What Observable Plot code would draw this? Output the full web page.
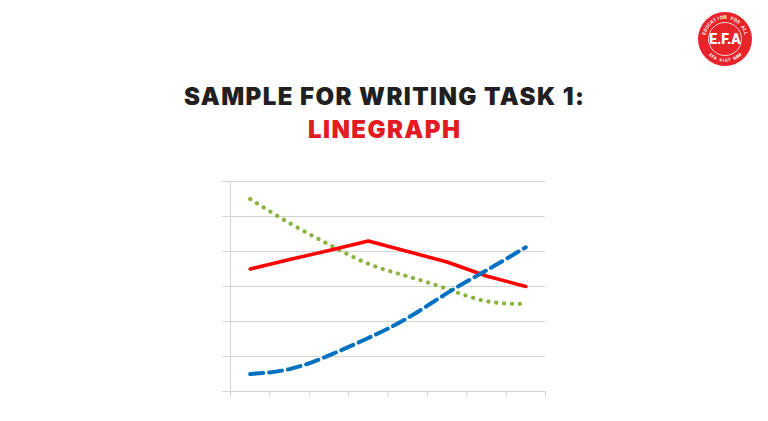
<!DOCTYPE html>
<html><head><meta charset="utf-8">
<script src="https://cdn.jsdelivr.net/npm/d3@7"></script>
<script src="https://cdn.jsdelivr.net/npm/@observablehq/plot@0.6"></script>
<style>
body{margin:0;background:#fff;width:768px;height:421px;overflow:hidden;font-family:Inter,Roboto,sans-serif}
#header{position:relative;height:170px}
.t{position:absolute;left:0;width:768px;text-align:center;font-family:Inter,sans-serif;font-weight:900;font-size:24px;line-height:24px;letter-spacing:1.4px;text-indent:1.4px;white-space:nowrap}
#logo{position:absolute;left:697px;top:11px}
#chart svg{display:block}
</style></head><body>
<div id="header">
  <div class="t" style="top:85px;color:#231f20">SAMPLE FOR WRITING TASK 1:</div>
  <div class="t" style="top:118px;color:#e31b23">LINEGRAPH</div>
  <svg id="logo" width="56" height="56" viewBox="-28 -28 56 56">
    <circle r="27" fill="#e8232a"/>
    <circle r="16.5" fill="none" stroke="#fff" stroke-width="0.8"/>
    <g id="ring" fill="#fff" font-weight="700" font-family="Roboto,sans-serif"></g>
    <text y="5" text-anchor="middle" font-size="14" font-weight="900" fill="#fff" font-family="Roboto,sans-serif">E.F.A</text>
  </svg>
</div>
<div id="chart"></div>
<script>
const periods = [1, 2, 3, 4, 5, 6, 7, 8];
const redSeries = [3.5, 3.77, 4.03, 4.3, 4.0, 3.7, 3.3, 3.0];
const blueSeries = [0.5, 0.64, 1.03, 1.53, 2.1, 2.81, 3.46, 4.12];
const greenSeries = [5.5, 4.81, 4.2, 3.65, 3.29, 2.93, 2.58, 2.5];
const yTicks = [0, 1, 2, 3, 4, 5, 6];
const xTicks = [0.5, 1.5, 2.5, 3.5, 4.5, 5.5, 6.5, 7.5, 8.5];
const logoTop = "EDUCATION FOR ALL";
const logoBottom = "EFA VIET NAM";

// logo ring text, one glyph per element
const ring = document.getElementById("ring");
const ns = "http://www.w3.org/2000/svg";
function glyph(ch, x, y, rot, size) {
  const t = document.createElementNS(ns, "text");
  t.setAttribute("x", x.toFixed(2));
  t.setAttribute("y", y.toFixed(2));
  t.setAttribute("font-size", size);
  t.setAttribute("text-anchor", "middle");
  t.setAttribute("dominant-baseline", "central");
  t.setAttribute("transform", `rotate(${rot.toFixed(2)} ${x.toFixed(2)} ${y.toFixed(2)})`);
  t.textContent = ch;
  ring.appendChild(t);
}
{
  const r = 21.5, span = 150, n = logoTop.length;
  [...logoTop].forEach((ch, i) => {
    const a = -span / 2 + span * i / (n - 1);
    const rad = a * Math.PI / 180;
    glyph(ch, r * Math.sin(rad), -r * Math.cos(rad), a, 4.8);
  });
  const r2 = 21.5, span2 = 84, n2 = logoBottom.length;
  [...logoBottom].forEach((ch, i) => {
    const a = -span2 / 2 + span2 * i / (n2 - 1);
    const rad = a * Math.PI / 180;
    glyph(ch, r2 * Math.sin(rad), r2 * Math.cos(rad), -a, 4.4);
  });
}

const red = periods.map((p, i) => ({x: p, y: redSeries[i]}));
const blue = periods.map((p, i) => ({x: p, y: blueSeries[i]}));
const green = periods.map((p, i) => ({x: p, y: greenSeries[i]}));

const grid = "#d4d4d4";
const chart = Plot.plot({
  width: 768,
  height: 251,
  marginLeft: 230,
  marginRight: 223,
  marginTop: 11,
  marginBottom: 30,
  x: {domain: [0.5, 8.5], label: null},
  y: {domain: [0, 6], label: null},
  marks: [
    Plot.gridY(yTicks, {stroke: grid, strokeOpacity: 1}),
    Plot.axisY(yTicks, {tickSize: 8, tickFormat: () => "", label: null, stroke: grid, strokeOpacity: 1}),
    Plot.axisX(xTicks, {tickSize: 6, tickFormat: () => "", label: null, stroke: grid, strokeOpacity: 1}),
    Plot.ruleX([0.5], {stroke: grid}),
    Plot.ruleY([0], {stroke: grid}),
    Plot.line(green, {x: "x", y: "y", stroke: "#8db33f", strokeWidth: 4.2, strokeDasharray: "0.1,7.8", strokeLinecap: "round", curve: "natural"}),
    Plot.line(red, {x: "x", y: "y", stroke: "#ff0000", strokeWidth: 3.5}),
    Plot.line(blue, {x: "x", y: "y", stroke: "#0070c0", strokeWidth: 4, strokeDasharray: "13,6", curve: "natural"})
  ]
});
document.getElementById("chart").appendChild(chart);
</script>
</body></html>
